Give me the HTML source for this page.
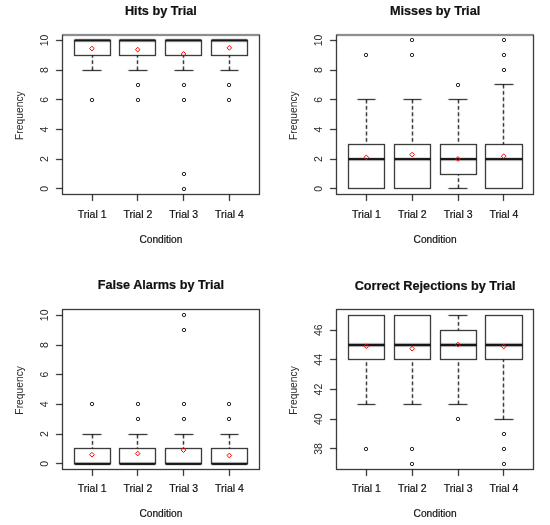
<!DOCTYPE html>
<html><head><meta charset="utf-8"><title>Boxplots by Trial</title>
<style>
html,body{margin:0;padding:0;background:#fff;}
body{width:550px;height:525px;overflow:hidden;}
svg{display:block;}
text{font-family:"Liberation Sans", Arial, sans-serif;fill:#111;stroke:#111;stroke-width:0.2px;}
.tk{font-size:10.5px;}
.cd{font-size:10.2px;}
.fq{font-size:10.3px;}
.rt{stroke:none;fill:#2a2a2a;}
.ti{font-size:12.7px;font-weight:bold;}
.fr,.bx{fill:none;stroke:#000;stroke-width:1;}
.ln{stroke:#000;stroke-width:1;}
.da{stroke:#000;stroke-width:1.2;stroke-dasharray:3.9 2.5;}
.md{stroke:#000;stroke-width:2.3;}
.ou{fill:none;stroke:#262626;stroke-width:1;}
.mn{fill:none;stroke:#f00;stroke-width:1;}
</style></head>
<body>
<svg width="550" height="525" viewBox="0 0 550 525">
<defs><filter id="soft" color-interpolation-filters="sRGB" x="0" y="0" width="550" height="525" filterUnits="userSpaceOnUse"><feConvolveMatrix order="3" kernelMatrix="0.02 0.08 0.02 0.08 0.6 0.08 0.02 0.08 0.02" edgeMode="duplicate" preserveAlpha="false"/></filter></defs>
<rect width="550" height="525" fill="#fff"/>
<g filter="url(#soft)">
<rect width="550" height="525" fill="#fff"/>
<rect x="62.5" y="35" width="197" height="159.5" class="fr"/>
<line x1="56" y1="188.5" x2="62.5" y2="188.5" class="ln"/>
<line x1="56" y1="159.5" x2="62.5" y2="159.5" class="ln"/>
<line x1="56" y1="129.5" x2="62.5" y2="129.5" class="ln"/>
<line x1="56" y1="99.5" x2="62.5" y2="99.5" class="ln"/>
<line x1="56" y1="70.5" x2="62.5" y2="70.5" class="ln"/>
<line x1="56" y1="40.5" x2="62.5" y2="40.5" class="ln"/>
<line x1="92.5" y1="194.5" x2="92.5" y2="201" class="ln"/>
<line x1="137.5" y1="194.5" x2="137.5" y2="201" class="ln"/>
<line x1="183.5" y1="194.5" x2="183.5" y2="201" class="ln"/>
<line x1="229.5" y1="194.5" x2="229.5" y2="201" class="ln"/>
<line x1="92.5" y1="70.5" x2="92.5" y2="55.5" class="da"/>
<line x1="82.5" y1="70.5" x2="101.5" y2="70.5" class="ln"/>
<rect x="74.5" y="40.5" width="36" height="15" class="bx"/>
<line x1="74.5" y1="40.4" x2="110.5" y2="40.4" class="md"/>
<line x1="137.5" y1="70.5" x2="137.5" y2="55.5" class="da"/>
<line x1="128.5" y1="70.5" x2="147.5" y2="70.5" class="ln"/>
<rect x="119.5" y="40.5" width="36" height="15" class="bx"/>
<line x1="119.5" y1="40.4" x2="155.5" y2="40.4" class="md"/>
<line x1="183.5" y1="70.5" x2="183.5" y2="55.5" class="da"/>
<line x1="174.5" y1="70.5" x2="193.5" y2="70.5" class="ln"/>
<rect x="165.5" y="40.5" width="36" height="15" class="bx"/>
<line x1="165.5" y1="40.4" x2="201.5" y2="40.4" class="md"/>
<line x1="229.5" y1="70.5" x2="229.5" y2="55.5" class="da"/>
<line x1="220.5" y1="70.5" x2="238.5" y2="70.5" class="ln"/>
<rect x="211.5" y="40.5" width="36" height="15" class="bx"/>
<line x1="211.5" y1="40.4" x2="247.5" y2="40.4" class="md"/>
<rect x="336.5" y="35" width="197" height="159.5" class="fr"/>
<line x1="330" y1="188.5" x2="336.5" y2="188.5" class="ln"/>
<line x1="330" y1="159.5" x2="336.5" y2="159.5" class="ln"/>
<line x1="330" y1="129.5" x2="336.5" y2="129.5" class="ln"/>
<line x1="330" y1="99.5" x2="336.5" y2="99.5" class="ln"/>
<line x1="330" y1="70.5" x2="336.5" y2="70.5" class="ln"/>
<line x1="330" y1="40.5" x2="336.5" y2="40.5" class="ln"/>
<line x1="366.5" y1="194.5" x2="366.5" y2="201" class="ln"/>
<line x1="412.5" y1="194.5" x2="412.5" y2="201" class="ln"/>
<line x1="458.5" y1="194.5" x2="458.5" y2="201" class="ln"/>
<line x1="503.5" y1="194.5" x2="503.5" y2="201" class="ln"/>
<line x1="366.5" y1="99.5" x2="366.5" y2="144.5" class="da"/>
<line x1="357.5" y1="99.5" x2="375.5" y2="99.5" class="ln"/>
<rect x="348.5" y="144.5" width="36" height="44" class="bx"/>
<line x1="348.5" y1="159.2" x2="384.5" y2="159.2" class="md"/>
<line x1="412.5" y1="99.5" x2="412.5" y2="144.5" class="da"/>
<line x1="403.5" y1="99.5" x2="421.5" y2="99.5" class="ln"/>
<rect x="394.5" y="144.5" width="36" height="44" class="bx"/>
<line x1="394.5" y1="159.2" x2="430.5" y2="159.2" class="md"/>
<line x1="458.5" y1="99.5" x2="458.5" y2="144.5" class="da"/>
<line x1="458.5" y1="188.5" x2="458.5" y2="174.5" class="da"/>
<line x1="448.5" y1="99.5" x2="467.5" y2="99.5" class="ln"/>
<line x1="448.5" y1="188.5" x2="467.5" y2="188.5" class="ln"/>
<rect x="440.5" y="144.5" width="36" height="30" class="bx"/>
<line x1="440.5" y1="159.2" x2="476.5" y2="159.2" class="md"/>
<line x1="503.5" y1="84.5" x2="503.5" y2="144.5" class="da"/>
<line x1="494.5" y1="84.5" x2="513.5" y2="84.5" class="ln"/>
<rect x="485.5" y="144.5" width="37" height="44" class="bx"/>
<line x1="485.5" y1="159.2" x2="522.5" y2="159.2" class="md"/>
<rect x="62.5" y="309.5" width="197" height="160" class="fr"/>
<line x1="56" y1="463.5" x2="62.5" y2="463.5" class="ln"/>
<line x1="56" y1="434.5" x2="62.5" y2="434.5" class="ln"/>
<line x1="56" y1="404.5" x2="62.5" y2="404.5" class="ln"/>
<line x1="56" y1="374.5" x2="62.5" y2="374.5" class="ln"/>
<line x1="56" y1="345.5" x2="62.5" y2="345.5" class="ln"/>
<line x1="56" y1="315.5" x2="62.5" y2="315.5" class="ln"/>
<line x1="92.5" y1="469.5" x2="92.5" y2="476" class="ln"/>
<line x1="137.5" y1="469.5" x2="137.5" y2="476" class="ln"/>
<line x1="183.5" y1="469.5" x2="183.5" y2="476" class="ln"/>
<line x1="229.5" y1="469.5" x2="229.5" y2="476" class="ln"/>
<line x1="92.5" y1="434.5" x2="92.5" y2="448.5" class="da"/>
<line x1="82.5" y1="434.5" x2="101.5" y2="434.5" class="ln"/>
<rect x="74.5" y="448.5" width="36" height="15" class="bx"/>
<line x1="74.5" y1="463.8" x2="110.5" y2="463.8" class="md"/>
<line x1="137.5" y1="434.5" x2="137.5" y2="448.5" class="da"/>
<line x1="128.5" y1="434.5" x2="147.5" y2="434.5" class="ln"/>
<rect x="119.5" y="448.5" width="36" height="15" class="bx"/>
<line x1="119.5" y1="463.8" x2="155.5" y2="463.8" class="md"/>
<line x1="183.5" y1="434.5" x2="183.5" y2="448.5" class="da"/>
<line x1="174.5" y1="434.5" x2="193.5" y2="434.5" class="ln"/>
<rect x="165.5" y="448.5" width="36" height="15" class="bx"/>
<line x1="165.5" y1="463.8" x2="201.5" y2="463.8" class="md"/>
<line x1="229.5" y1="434.5" x2="229.5" y2="448.5" class="da"/>
<line x1="220.5" y1="434.5" x2="238.5" y2="434.5" class="ln"/>
<rect x="211.5" y="448.5" width="36" height="15" class="bx"/>
<line x1="211.5" y1="463.8" x2="247.5" y2="463.8" class="md"/>
<rect x="336.5" y="309.5" width="197" height="160" class="fr"/>
<line x1="330" y1="448.5" x2="336.5" y2="448.5" class="ln"/>
<line x1="330" y1="419.5" x2="336.5" y2="419.5" class="ln"/>
<line x1="330" y1="389.5" x2="336.5" y2="389.5" class="ln"/>
<line x1="330" y1="359.5" x2="336.5" y2="359.5" class="ln"/>
<line x1="330" y1="330.5" x2="336.5" y2="330.5" class="ln"/>
<line x1="366.5" y1="469.5" x2="366.5" y2="476" class="ln"/>
<line x1="412.5" y1="469.5" x2="412.5" y2="476" class="ln"/>
<line x1="458.5" y1="469.5" x2="458.5" y2="476" class="ln"/>
<line x1="503.5" y1="469.5" x2="503.5" y2="476" class="ln"/>
<line x1="366.5" y1="404.5" x2="366.5" y2="359.5" class="da"/>
<line x1="357.5" y1="404.5" x2="375.5" y2="404.5" class="ln"/>
<rect x="348.5" y="315.5" width="36" height="44" class="bx"/>
<line x1="348.5" y1="345" x2="384.5" y2="345" class="md"/>
<line x1="412.5" y1="404.5" x2="412.5" y2="359.5" class="da"/>
<line x1="403.5" y1="404.5" x2="421.5" y2="404.5" class="ln"/>
<rect x="394.5" y="315.5" width="36" height="44" class="bx"/>
<line x1="394.5" y1="345" x2="430.5" y2="345" class="md"/>
<line x1="458.5" y1="315.5" x2="458.5" y2="330.5" class="da"/>
<line x1="458.5" y1="404.5" x2="458.5" y2="359.5" class="da"/>
<line x1="448.5" y1="315.5" x2="467.5" y2="315.5" class="ln"/>
<line x1="448.5" y1="404.5" x2="467.5" y2="404.5" class="ln"/>
<rect x="440.5" y="330.5" width="36" height="29" class="bx"/>
<line x1="440.5" y1="345" x2="476.5" y2="345" class="md"/>
<line x1="503.5" y1="419.5" x2="503.5" y2="359.5" class="da"/>
<line x1="494.5" y1="419.5" x2="513.5" y2="419.5" class="ln"/>
<rect x="485.5" y="315.5" width="37" height="44" class="bx"/>
<line x1="485.5" y1="345" x2="522.5" y2="345" class="md"/>
</g>
<text transform="translate(47.9,188.9) rotate(-90)" text-anchor="middle" class="tk rt">0</text>
<text transform="translate(47.9,159.2) rotate(-90)" text-anchor="middle" class="tk rt">2</text>
<text transform="translate(47.9,129.5) rotate(-90)" text-anchor="middle" class="tk rt">4</text>
<text transform="translate(47.9,99.8) rotate(-90)" text-anchor="middle" class="tk rt">6</text>
<text transform="translate(47.9,70.1) rotate(-90)" text-anchor="middle" class="tk rt">8</text>
<text transform="translate(47.9,40.4) rotate(-90)" text-anchor="middle" class="tk rt">10</text>
<text x="92.1" y="217.5" text-anchor="middle" class="tk">Trial 1</text>
<text x="137.9" y="217.5" text-anchor="middle" class="tk">Trial 2</text>
<text x="183.7" y="217.5" text-anchor="middle" class="tk">Trial 3</text>
<text x="229.5" y="217.5" text-anchor="middle" class="tk">Trial 4</text>
<text x="160.9" y="242.5" text-anchor="middle" class="cd">Condition</text>
<text transform="translate(22.5,115.6) rotate(-90)" text-anchor="middle" class="fq rt">Frequency</text>
<text x="160.9" y="14.7" text-anchor="middle" class="ti">Hits by Trial</text>
<circle cx="92" cy="100" r="1.7" class="ou"/>
<path d="M91.9 46.22L94.25 48.57L91.9 50.92L89.55 48.57Z" class="mn"/>
<circle cx="138" cy="85" r="1.7" class="ou"/>
<circle cx="138" cy="100" r="1.7" class="ou"/>
<path d="M137.7 47.26L140.05 49.61L137.7 51.96L135.35 49.61Z" class="mn"/>
<circle cx="184" cy="85" r="1.7" class="ou"/>
<circle cx="184" cy="100" r="1.7" class="ou"/>
<circle cx="184" cy="174" r="1.7" class="ou"/>
<circle cx="184" cy="189" r="1.7" class="ou"/>
<path d="M183.5 51.57L185.85 53.92L183.5 56.27L181.15 53.92Z" class="mn"/>
<circle cx="229" cy="85" r="1.7" class="ou"/>
<circle cx="229" cy="100" r="1.7" class="ou"/>
<path d="M229.3 45.48L231.65 47.83L229.3 50.18L226.95 47.83Z" class="mn"/>
<text transform="translate(322.1,188.9) rotate(-90)" text-anchor="middle" class="tk rt">0</text>
<text transform="translate(322.1,159.2) rotate(-90)" text-anchor="middle" class="tk rt">2</text>
<text transform="translate(322.1,129.5) rotate(-90)" text-anchor="middle" class="tk rt">4</text>
<text transform="translate(322.1,99.8) rotate(-90)" text-anchor="middle" class="tk rt">6</text>
<text transform="translate(322.1,70.1) rotate(-90)" text-anchor="middle" class="tk rt">8</text>
<text transform="translate(322.1,40.4) rotate(-90)" text-anchor="middle" class="tk rt">10</text>
<text x="366.5" y="217.5" text-anchor="middle" class="tk">Trial 1</text>
<text x="412.3" y="217.5" text-anchor="middle" class="tk">Trial 2</text>
<text x="458.1" y="217.5" text-anchor="middle" class="tk">Trial 3</text>
<text x="503.9" y="217.5" text-anchor="middle" class="tk">Trial 4</text>
<text x="435.1" y="242.5" text-anchor="middle" class="cd">Condition</text>
<text transform="translate(296.7,115.6) rotate(-90)" text-anchor="middle" class="fq rt">Frequency</text>
<text x="435.1" y="14.7" text-anchor="middle" class="ti">Misses by Trial</text>
<circle cx="366" cy="55" r="1.7" class="ou"/>
<path d="M366.3 155.07L368.65 157.42L366.3 159.77L363.95 157.42Z" class="mn"/>
<circle cx="412" cy="55" r="1.7" class="ou"/>
<circle cx="412" cy="40" r="1.7" class="ou"/>
<path d="M412.1 152.25L414.45 154.6L412.1 156.95L409.75 154.6Z" class="mn"/>
<circle cx="458" cy="85" r="1.7" class="ou"/>
<path d="M457.9 156.56L460.25 158.91L457.9 161.26L455.55 158.91Z" class="mn"/>
<circle cx="504" cy="70" r="1.7" class="ou"/>
<circle cx="504" cy="55" r="1.7" class="ou"/>
<circle cx="504" cy="40" r="1.7" class="ou"/>
<path d="M503.7 153.88L506.05 156.23L503.7 158.58L501.35 156.23Z" class="mn"/>
<text transform="translate(47.9,463.8) rotate(-90)" text-anchor="middle" class="tk rt">0</text>
<text transform="translate(47.9,434.1) rotate(-90)" text-anchor="middle" class="tk rt">2</text>
<text transform="translate(47.9,404.4) rotate(-90)" text-anchor="middle" class="tk rt">4</text>
<text transform="translate(47.9,374.7) rotate(-90)" text-anchor="middle" class="tk rt">6</text>
<text transform="translate(47.9,345) rotate(-90)" text-anchor="middle" class="tk rt">8</text>
<text transform="translate(47.9,315.3) rotate(-90)" text-anchor="middle" class="tk rt">10</text>
<text x="92.1" y="492.4" text-anchor="middle" class="tk">Trial 1</text>
<text x="137.9" y="492.4" text-anchor="middle" class="tk">Trial 2</text>
<text x="183.7" y="492.4" text-anchor="middle" class="tk">Trial 3</text>
<text x="229.5" y="492.4" text-anchor="middle" class="tk">Trial 4</text>
<text x="160.9" y="517.4" text-anchor="middle" class="cd">Condition</text>
<text transform="translate(22.5,390.3) rotate(-90)" text-anchor="middle" class="fq rt">Frequency</text>
<text x="160.9" y="289.2" text-anchor="middle" class="ti">False Alarms by Trial</text>
<circle cx="92" cy="404" r="1.7" class="ou"/>
<path d="M91.9 452.39L94.25 454.74L91.9 457.09L89.55 454.74Z" class="mn"/>
<circle cx="138" cy="419" r="1.7" class="ou"/>
<circle cx="138" cy="404" r="1.7" class="ou"/>
<path d="M137.7 451.21L140.05 453.56L137.7 455.91L135.35 453.56Z" class="mn"/>
<circle cx="184" cy="419" r="1.7" class="ou"/>
<circle cx="184" cy="404" r="1.7" class="ou"/>
<circle cx="184" cy="330" r="1.7" class="ou"/>
<circle cx="184" cy="315" r="1.7" class="ou"/>
<path d="M183.5 447.79L185.85 450.14L183.5 452.49L181.15 450.14Z" class="mn"/>
<circle cx="229" cy="419" r="1.7" class="ou"/>
<circle cx="229" cy="404" r="1.7" class="ou"/>
<path d="M229.3 453.14L231.65 455.49L229.3 457.84L226.95 455.49Z" class="mn"/>
<text transform="translate(322.1,448.95) rotate(-90)" text-anchor="middle" class="tk rt">38</text>
<text transform="translate(322.1,419.25) rotate(-90)" text-anchor="middle" class="tk rt">40</text>
<text transform="translate(322.1,389.55) rotate(-90)" text-anchor="middle" class="tk rt">42</text>
<text transform="translate(322.1,359.85) rotate(-90)" text-anchor="middle" class="tk rt">44</text>
<text transform="translate(322.1,330.15) rotate(-90)" text-anchor="middle" class="tk rt">46</text>
<text x="366.5" y="492.4" text-anchor="middle" class="tk">Trial 1</text>
<text x="412.3" y="492.4" text-anchor="middle" class="tk">Trial 2</text>
<text x="458.1" y="492.4" text-anchor="middle" class="tk">Trial 3</text>
<text x="503.9" y="492.4" text-anchor="middle" class="tk">Trial 4</text>
<text x="435.1" y="517.4" text-anchor="middle" class="cd">Condition</text>
<text transform="translate(296.7,390.45) rotate(-90)" text-anchor="middle" class="fq rt">Frequency</text>
<text x="435.1" y="289.5" text-anchor="middle" class="ti">Correct Rejections by Trial</text>
<circle cx="366" cy="449" r="1.7" class="ou"/>
<path d="M366.3 343.84L368.65 346.19L366.3 348.54L363.95 346.19Z" class="mn"/>
<circle cx="412" cy="449" r="1.7" class="ou"/>
<circle cx="412" cy="464" r="1.7" class="ou"/>
<path d="M412.1 346.37L414.45 348.72L412.1 351.07L409.75 348.72Z" class="mn"/>
<circle cx="458" cy="419" r="1.7" class="ou"/>
<path d="M457.9 342.21L460.25 344.56L457.9 346.91L455.55 344.56Z" class="mn"/>
<circle cx="504" cy="434" r="1.7" class="ou"/>
<circle cx="504" cy="449" r="1.7" class="ou"/>
<circle cx="504" cy="464" r="1.7" class="ou"/>
<path d="M503.7 344.14L506.05 346.49L503.7 348.84L501.35 346.49Z" class="mn"/>
</svg>
</body></html>
